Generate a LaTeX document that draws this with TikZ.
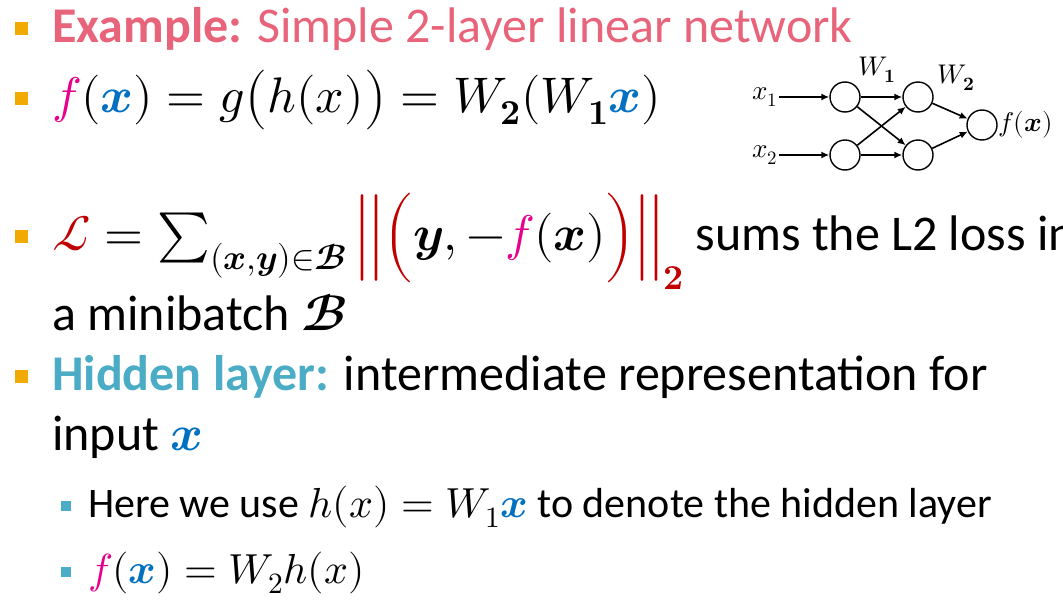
\documentclass[tikz,border=0pt]{standalone}
\usepackage{amsmath}
\usepackage{unicode-math}
\setmainfont{Carlito}
\setmathfont{Latin Modern Math}
\usetikzlibrary{arrows.meta}
\definecolor{pk}{RGB}{232,100,122}
\definecolor{bo}{RGB}{240,170,0}
\definecolor{cy}{RGB}{75,172,198}
\definecolor{bx}{RGB}{0,112,192}
\definecolor{mg}{RGB}{230,0,140}
\definecolor{rd}{RGB}{192,0,0}
\newcommand{\bx}{{\color{bx}\symbfit{x}}}
\newcommand{\mf}{{\color{mg}f}}
\tikzset{
  txt/.style={anchor=base west,inner sep=0pt,font=\fontsize{50}{54}\selectfont},
  stxt/.style={anchor=base west,inner sep=0pt,font=\fontsize{42}{46}\selectfont},
  bul/.style={fill=bo,minimum size=13pt,inner sep=0pt},
  sbul/.style={fill=cy,minimum size=10pt,inner sep=0pt},
  neuron/.style={circle,draw,line width=1.4pt,minimum size=30pt,inner sep=0pt},
  conn/.style={line width=1.6pt,-{Latex[length=8pt,width=7pt]}},
  lab/.style={inner sep=1pt,font=\fontsize{27}{29}\selectfont}
}
\begin{document}
\begin{tikzpicture}[x=1pt,y=-1pt]
\useasboundingbox (0,0) rectangle (1063,613);
\node[bul] (b1) at (21,28) {};
\node[txt] (t1) at (52,42) {{\color{pk}\textbf{Example:} Simple 2-layer linear network}};
\node[bul] (b2) at (21,98) {};
\node[txt] (t2) at (52,112) {$\mf(\bx)=g\big(h(x)\big)=W_{\symbf{2}}(W_{\symbf{1}}\bx)$};
\node[bul] (b3) at (21,236) {};
\node[txt] (t3) at (52,250) {${\color{rd}\mathcal{L}}=\sum_{(\symbfit{x},\symbfit{y})\in\symbfcal{B}}{\color{rd}\Big|\Big|\Big(}\symbfit{y},-\mf(\symbfit{x}){\color{rd}\Big)\Big|\Big|_{\symbf{2}}}$ sums the L2 loss in};
\node[txt] (t3b) at (52,330) {a minibatch $\symbfcal{B}$};
\node[bul] (b4) at (21,376) {};
\node[txt] (t4) at (52,390) {{\color{cy}\textbf{Hidden layer:}} intermediate representation for};
\node[txt] (t4b) at (52,450) {input $\bx$};
\node[sbul] (s1) at (66,506) {};
\node[stxt] (u1) at (88,517) {Here we use $h(x)=W_1\bx$ to denote the hidden layer};
\node[sbul] (s2) at (66,572) {};
\node[stxt] (u2) at (88,583) {$\mf(\bx)=W_2h(x)$};
% network
\node[neuron] (i1) at (845,97) {};
\node[neuron] (i2) at (845,155) {};
\node[neuron] (h1) at (918,97) {};
\node[neuron] (h2) at (918,155) {};
\node[neuron] (o) at (982,125) {};
\node[lab] (x1) at (765,97) {$x_1$};
\node[lab] (x2) at (765,155) {$x_2$};
\node[lab] (w1) at (877,70) {$W_{\symbf 1}$};
\node[lab] (w2) at (956,78) {$W_{\symbf 2}$};
\node[lab,anchor=west] (fx) at (997,125) {$f(\symbfit{x})$};
\draw[conn] (x1) -- (i1);
\draw[conn] (x2) -- (i2);
\draw[conn] (i1) -- (h1);
\draw[conn] (i1) -- (h2);
\draw[conn] (i2) -- (h1);
\draw[conn] (i2) -- (h2);
\draw[conn] (h1) -- (o);
\draw[conn] (h2) -- (o);
\end{tikzpicture}
\end{document}
